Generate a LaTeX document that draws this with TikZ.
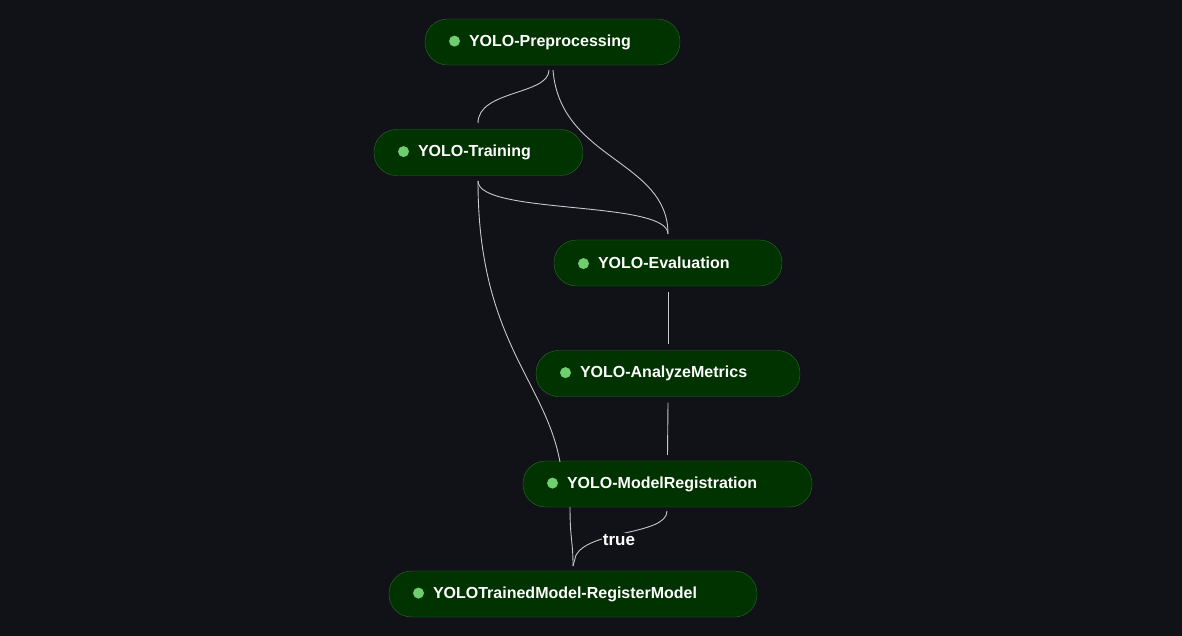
\documentclass[tikz,border=0pt]{standalone}
\usepackage{fontspec}
\setmainfont{Liberation Sans}
\usetikzlibrary{calc}
\definecolor{bg}{HTML}{111217}
\definecolor{nfill}{HTML}{003300}
\definecolor{nline}{HTML}{2C6B2C}
\definecolor{dotc}{HTML}{6FCF6F}
\definecolor{edge}{HTML}{C8C8C8}
\begin{document}
\begin{tikzpicture}[x=1pt,y=-1pt,
  pill/.style={draw=nline,fill=nfill,rounded corners=22.5pt,minimum height=46pt,text=white,
    font=\fontsize{16}{18}\selectfont\bfseries,inner ysep=0pt,inner xsep=24pt,align=left},
  conn/.style={draw=edge,line width=0.9pt},
  lbl/.style={text=white,font=\fontsize{17}{19}\selectfont\bfseries,fill=bg,inner sep=1pt}]
\fill[bg] (0,0) rectangle (1182,636);
\newcommand{\stepdot}{\tikz[baseline=-5pt]\fill[dotc] circle (5.5pt);\hspace{9pt}}
\node[pill,text width=207pt] (pre) at (552.5,42) {\stepdot YOLO-Preprocessing};
\node[pill,text width=161pt] (train) at (478.5,152.5) {\stepdot YOLO-Training};
\node[pill,text width=180pt] (eval) at (668,263) {\stepdot YOLO-Evaluation};
\node[pill,text width=216pt] (anal) at (668,373.5) {\stepdot YOLO-AnalyzeMetrics};
\node[pill,text width=241pt] (reg) at (667.5,484) {\stepdot YOLO-ModelRegistration};
\node[pill,text width=320pt] (rm) at (573,594) {\stepdot YOLOTrainedModel-RegisterModel};
\coordinate (p1) at (549,70);
\coordinate (p2) at (553,70);
\coordinate (t1) at (478,123);
\coordinate (e1) at (668,234);
\coordinate (t2) at (478,181);
\coordinate (r1) at (560,462);
\coordinate (r2) at (570,507);
\coordinate (r3) at (667,511);
\coordinate (m1) at (573,566);
\draw[conn] (p1) .. controls (549,95) and (478,90) .. (t1);
\draw[conn] (p2) .. controls (560,160) and (668,160) .. (e1);
\draw[conn] (t2) .. controls (478,215) and (668,200) .. (e1);
\draw[conn] (t2) .. controls (478,340) and (545,380) .. (r1);
\draw[conn] (eval.south) ++(0,6) -- ($(anal.north)+(0,-6)$);
\draw[conn] (anal.south) ++(0,6) -- ($(reg.north)+(0,-6)$);
\draw[conn] (r2) .. controls (570,540) and (573,540) .. (m1);
\draw[conn] (r3) .. controls (667,535) and (590,530) .. (576,555) .. controls (574,560) .. (m1);
\node[lbl] (t) at (619,540) {true};
\end{tikzpicture}
\end{document}
